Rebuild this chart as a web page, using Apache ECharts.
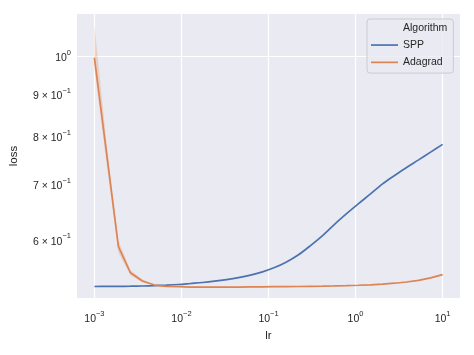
<!DOCTYPE html>
<html>
<head>
<meta charset="utf-8">
<script src="https://cdn.jsdelivr.net/npm/echarts@6/dist/echarts.min.js"></script>
<style>
html,body{margin:0;padding:0;background:#fff;}
#c{width:474px;height:355px;}
</style>
</head>
<body>
<div id="c"></div>
<script>
// learning rates (x)
const lr = [0.001, 0.0013738, 0.0018874, 0.0025929, 0.0035622, 0.0048939, 0.0067234, 0.0092367,
  0.012690, 0.017433, 0.023950, 0.032903, 0.045204, 0.062102, 0.085317, 0.11721, 0.16103,
  0.22122, 0.30392, 0.41753, 0.57362, 0.78805, 1.0826, 1.4874, 2.0434, 2.8072, 3.8566,
  5.2983, 7.2790, 10];
// mean loss per algorithm
const sppLoss = [0.5272, 0.52725, 0.5274, 0.52762, 0.52792, 0.52836, 0.52909, 0.53013, 0.5316, 0.53308,
  0.53501, 0.5374, 0.54039, 0.54417, 0.54902, 0.55562, 0.56434, 0.57573, 0.59064, 0.60727,
  0.62663, 0.64535, 0.66369, 0.68185, 0.70103, 0.71757, 0.73389, 0.74936, 0.76578, 0.78247];
const adagradLoss = [0.9953, 0.766, 0.5888, 0.5477, 0.5352, 0.5293, 0.5274, 0.5270, 0.5264, 0.5264,
  0.5264, 0.5264, 0.5264, 0.5266, 0.5267, 0.5269, 0.5270, 0.5272, 0.5275, 0.5277,
  0.5280, 0.5284, 0.5290, 0.5297, 0.5308, 0.5320, 0.5338, 0.5363, 0.5400, 0.5448];
// confidence band of Adagrad
const adagradLow = [0.965, 0.745, 0.579, 0.544, 0.533, 0.5285, 0.5268, 0.5266, 0.5261, 0.5261,
  0.5261, 0.5261, 0.5261, 0.5263, 0.5264, 0.5266, 0.5267, 0.5269, 0.5272, 0.5274,
  0.5277, 0.5281, 0.5287, 0.5294, 0.5305, 0.5317, 0.5335, 0.5360, 0.5396, 0.5443];
const adagradHigh = [1.09, 0.788, 0.599, 0.552, 0.5375, 0.5302, 0.5281, 0.5275, 0.5267, 0.5267,
  0.5267, 0.5267, 0.5267, 0.5269, 0.5270, 0.5272, 0.5273, 0.5275, 0.5278, 0.5280,
  0.5283, 0.5287, 0.5293, 0.5300, 0.5311, 0.5323, 0.5341, 0.5366, 0.5404, 0.5453];
const xTicks = [0.001, 0.01, 0.1, 1, 10];
const xTickLabels = ['\u22123', '\u22122', '\u22121', '0', '1'];
const yTicks = [0.6, 0.7, 0.8, 0.9, 1];
const yTickLabels = ['6 \u00d7 10|\u22121', '7 \u00d7 10|\u22121', '8 \u00d7 10|\u22121', '9 \u00d7 10|\u22121', '10|0'];
const yMajor = [1];
const seriesNames = ['SPP', 'Adagrad'];
const legendTitle = 'Algorithm';

const FONT = 'Liberation Sans, Arial, sans-serif';
const TXT = '#262626';
const richSup = {
  b: {fontSize: 10.5, fontFamily: FONT, color: TXT, lineHeight: 15, verticalAlign: 'bottom'},
  s: {fontSize: 7.5, fontFamily: FONT, color: TXT, verticalAlign: 'top', lineHeight: 15}
};
function near(a, b) { return Math.abs(a - b) / b < 1e-6; }
function xFmt(v) {
  for (let i = 0; i < xTicks.length; i++) if (near(v, xTicks[i])) return '{b|10}{s|' + xTickLabels[i] + '}';
  return '';
}
function yFmt(v) {
  for (let i = 0; i < yTicks.length; i++) if (near(v, yTicks[i])) {
    const p = yTickLabels[i].split('|');
    return '{b|' + p[0] + '}{s|' + p[1] + '}';
  }
  return '';
}
const pairs = arr => arr.map((v, i) => [lr[i], v]);

const chart = echarts.init(document.getElementById('c'), null, {renderer: 'canvas'});
chart.setOption({
  animation: false,
  backgroundColor: '#ffffff',
  textStyle: {fontFamily: FONT},
  grid: {left: 75, right: 14, top: 14, bottom: 57, show: true, backgroundColor: '#eaeaf2', borderWidth: 0},
  xAxis: {
    type: 'log', logBase: 10, min: Math.pow(10, -3.2), max: Math.pow(10, 1.2),
    name: 'lr', nameLocation: 'middle', nameGap: 32,
    nameTextStyle: {fontSize: 11.5, color: TXT, fontFamily: FONT},
    axisLine: {show: false}, axisTick: {show: false, customValues: xTicks},
    axisLabel: {customValues: xTicks, formatter: xFmt, rich: richSup, margin: 12},
    splitLine: {show: true, lineStyle: {color: '#ffffff', width: 1.2}},
    minorSplitLine: {show: false}
  },
  yAxis: {
    type: 'log', logBase: 10, min: 0.5106, max: 1.1239,
    name: 'loss', nameLocation: 'middle', nameGap: 57, nameRotate: 90,
    nameTextStyle: {fontSize: 11.5, color: TXT, fontFamily: FONT},
    axisLine: {show: false}, axisTick: {show: false, customValues: yMajor},
    axisLabel: {customValues: yTicks, formatter: yFmt, rich: richSup, margin: 6},
    splitLine: {show: true, lineStyle: {color: '#ffffff', width: 1.2}}
  },
  legend: {
    orient: 'vertical', left: 367, top: 19, align: 'left',
    itemWidth: 27, itemHeight: 1.7, itemGap: 4.8,
    padding: [2.5, 6, 4.5, 4],
    backgroundColor: 'rgba(234,234,242,0.8)', borderColor: '#cccccc', borderWidth: 1, borderRadius: 3,
    textStyle: {fontSize: 10.5, color: TXT, fontFamily: FONT, lineHeight: 12.5},
    data: [{name: legendTitle, icon: 'none'}, {name: seriesNames[0], icon: 'rect'}, {name: seriesNames[1], icon: 'rect'}]
  },
  series: [
    {name: legendTitle, type: 'line', data: [], symbol: 'none', lineStyle: {opacity: 0}, itemStyle: {opacity: 0}},
    {name: 'band', type: 'custom', silent: true, z: 1, clip: true,
      data: [[lr[0], adagradHigh[0]]],
      renderItem: function (params, api) {
        const pts = [];
        for (let i = 0; i < lr.length; i++) pts.push(api.coord([lr[i], adagradHigh[i]]));
        for (let i = lr.length - 1; i >= 0; i--) pts.push(api.coord([lr[i], adagradLow[i]]));
        return {type: 'polygon', shape: {points: pts}, style: {fill: 'rgba(221,132,82,0.25)', stroke: null}};
      }
    },
    {name: seriesNames[0], type: 'line', data: pairs(sppLoss), symbol: 'none', color: '#4c72b0', smooth: 0.3,
      lineStyle: {width: 1.7, color: '#4c72b0'}, z: 3},
    {name: seriesNames[1], type: 'line', data: pairs(adagradLoss), symbol: 'none', color: '#dd8452',
      lineStyle: {width: 1.7, color: '#dd8452'}, z: 3}
  ]
});
</script>
</body>
</html>
